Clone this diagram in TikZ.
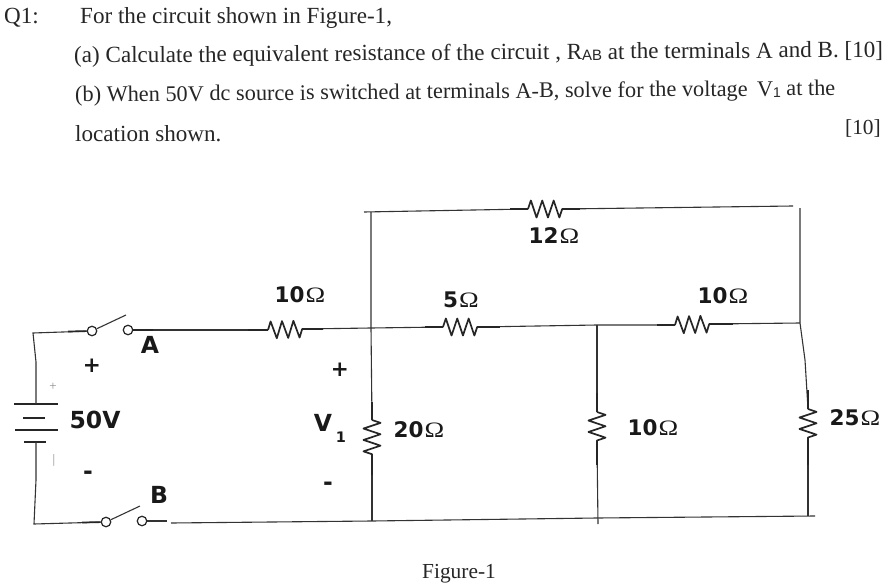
\documentclass[tikz,border=0pt]{standalone}
\usepackage{fontspec}
\setmainfont{Liberation Serif}
\newfontfamily\labelfont{DejaVu Sans}
\newfontfamily\subfont{Liberation Sans}
\usetikzlibrary{positioning, calc, decorations.pathmorphing}
\newcommand{\ohm}{\kern1pt\scalebox{1.2}[1]{\normalfont\mdseries\fontsize{22}{24}\selectfont Ω}}
\begin{document}
\begin{tikzpicture}
            [x=1pt, y=-1pt,
            wire/.style={draw=black!80, line width=1.1pt},
            lead/.style={draw=black!85, line width=1.7pt},
            resistor/.style={draw=black!85, line width=1.7pt, line join=round, decorate, decoration={zigzag, amplitude=8.5pt, segment length=11.4pt}},
            terminal/.style={circle, draw=black!85, line width=1.2pt, fill=white, minimum size=9.5pt, inner sep=0pt},
            question/.style={anchor=base west, inner sep=0pt, text=black!85, font=\fontsize{23.1}{26}\selectfont},
            value/.style={inner sep=0pt, text=black!90, font=\labelfont\bfseries\fontsize{21.5}{24}\selectfont},
            letter/.style={value, font=\labelfont\bfseries\fontsize{23.5}{26}\selectfont}]
            \useasboundingbox[fill=white] (0,0) rectangle (888,588);

            % text of the question
            \node[question]                (Q1)     at (4,24)    {Q1:};
            \node[question]                (intro)  at (80,24)   {For the circuit shown in Figure-1,};
            \node[question, rotate=0.42]   (parta)  at (74,63)   {(a) Calculate the equivalent resistance of the circuit , R\lower1.5pt\hbox{\subfont\fontsize{15}{16}\selectfont AB} at the terminals A and B. [10]};
            \node[question, rotate=0.5, font=\fontsize{22.3}{26}\selectfont] (partb) at (75,102) {(b) When 50V dc source is switched at terminals A-B, solve for the voltage\, V\lower1.5pt\hbox{\subfont\fontsize{14}{16}\selectfont 1} at the};
            \node[question]                (partc)  at (75,142)  {location shown.};
            \node[question, anchor=base east, font=\fontsize{21.4}{24}\selectfont] (markc) at (881,135) {[10]};
            \node[question, anchor=base, font=\fontsize{21.4}{24}\selectfont] (figure) at (459,578) {Figure-1};

            % switches and battery
            \node[terminal] (swA1) at (92,331)  {};
            \node[terminal] (swA2) at (128,330) {};
            \node[terminal] (swB1) at (106,522) {};
            \node[terminal] (swB2) at (142,521) {};
            \coordinate (bladeA) at (126,315);
            \coordinate (bladeB) at (140,506);
            \foreach \n/\y/\xa/\xb in {1/404/14/58, 2/418/23/45, 3/430/15/58, 4/442/24/46}{
                \coordinate (platel\n) at (\xa,\y);
                \coordinate (plater\n) at (\xb,\y);
                \draw[lead, line width=1.3pt] (platel\n) -- (plater\n);
            }
            \coordinate (battop) at (36,404);
            \coordinate (batbot) at (36,442);
            \coordinate (TL) at (33,333);
            \coordinate (TLa) at (36,362);
            \coordinate (BLa) at (36,480);
            \coordinate (BL) at (34,524);
            \coordinate (endB) at (167,521);
            \coordinate (startB) at (171,523);
            \coordinate (leadA) at (153,330);
            \coordinate (leadB) at (82,522.5);
            \coordinate (leadT) at (68,331.5);

            % junctions
            \coordinate (J1) at (371,328);
            \coordinate (J2) at (597,325);
            \coordinate (J3) at (800,323);
            \coordinate (top1) at (364,212);
            \coordinate (top1v) at (371,212);
            \coordinate (top2) at (793,206);
            \coordinate (top2v) at (800,208);
            \coordinate (B1) at (372,521);
            \coordinate (B2) at (597,518);
            \coordinate (B3) at (808,516);
            \coordinate (bend) at (805,360);
            \coordinate (rightend) at (815,516);
            \coordinate (B2end) at (598,524);

            % resistor ends
            \coordinate (r10La) at (268,330);  \coordinate (r10Lb) at (303,329);
            \coordinate (r5a)   at (443,327);  \coordinate (r5b)   at (478,327);
            \coordinate (r10Ra) at (675,325);  \coordinate (r10Rb) at (712,324);
            \coordinate (r12a)  at (528,209);  \coordinate (r12b)  at (563,209);
            \coordinate (r20a)  at (372,420);  \coordinate (r20b)  at (372,455);
            \coordinate (r10Ma) at (597,412);  \coordinate (r10Mb) at (597,445);
            \coordinate (r25a)  at (808,409);  \coordinate (r25b)  at (808,443);

            \foreach \a/\b in {r10La/r10Lb, r5a/r5b, r10Ra/r10Rb, r12a/r12b, r20a/r20b, r10Ma/r10Mb, r25a/r25b}
                \draw[resistor] (\a) -- (\b);

            % wires
            \draw[wire] (battop) -- (TLa) -- (TL) -- (swA1);
            \draw[wire] (batbot) -- (BLa) -- (BL) -- (swB1);
            \draw[wire] (swA1) -- (bladeA);
            \draw[wire] (swB1) -- (bladeB);
            \draw[wire] (swB2) -- (endB);
            \draw[wire] (swA2) -- (r10La);
            \draw[wire] (r10Lb) -- (J1) -- (r5a);
            \draw[wire] (r5b) -- (J2) -- (r10Ra);
            \draw[wire] (r10Rb) -- (J3);
            \draw[wire] (top1) -- (r12a);
            \draw[wire] (r12b) -- (top2);
            \draw[wire] (top2v) -- (J3) -- (bend) -- (r25a);
            \draw[wire] (r25b) -- (B3);
            \draw[wire] (top1v) -- (J1) -- (r20a);
            \draw[wire] (r20b) -- (B1);
            \draw[wire] (J2) -- (r10Ma);
            \draw[wire] (r10Mb) -- (B2end);
            \draw[wire] (startB) -- (B1) -- (B2) -- (rightend);

            % thick stubs beside the parts
            \draw[lead] (swA2) -- (leadA);
            \draw[lead] (swA1) -- (leadT);
            \draw[lead] (swB1) -- (leadB);
            \foreach \a/\dx/\dy in {r10La/-20/0, r10Lb/20/0, r5a/-18/0, r5b/22/0, r10Ra/-18/0, r10Rb/21/0, r12a/-18/0, r12b/17/0, r20a/0/-18, r20b/0/20, r10Ma/0/-19, r10Mb/0/20, r25a/0/-19, r25b/0/22}
                \draw[lead] (\a) -- ($(\a)+(\dx,\dy)$);

            % values
            \node[value] (lab10L) at (300,295) {10\ohm};
            \node[value] (lab5)   at (461,300) {5\ohm};
            \node[value] (lab10R) at (723,296) {10\ohm};
            \node[value] (lab12)  at (554,236) {12\ohm};
            \node[value] (lab20)  at (419,430) {20\ohm};
            \node[value] (lab10M) at (653,428) {10\ohm};
            \node[value] (lab25)  at (855,418) {25\ohm};
            \node[letter] (lab50) at (95,420)  {50V};
            \node[letter] (labA)  at (150,345) {A};
            \node[letter] (labB)  at (159,495) {B};
            \node[value] (plusL)  at (92,366)  {+};
            \node[letter] (minusL) at (88,475) {-};
            \node[value] (plusR)  at (340,370) {+};
            \node[letter] (minusR) at (328,486) {-};
            \node[letter] (labV)  at (323,423) {V};
            \node[value, font=\labelfont\bfseries\fontsize{14.5}{16}\selectfont] (labV1) at (341,437) {1};
            \node[inner sep=0pt, text=black!45, font=\fontsize{13}{14}\selectfont] (signP) at (53,387) {+};
            \node[inner sep=0pt, text=black!45, font=\fontsize{13}{14}\selectfont] (signM) at (54,460) {|};
        \end{tikzpicture}
\end{document}
